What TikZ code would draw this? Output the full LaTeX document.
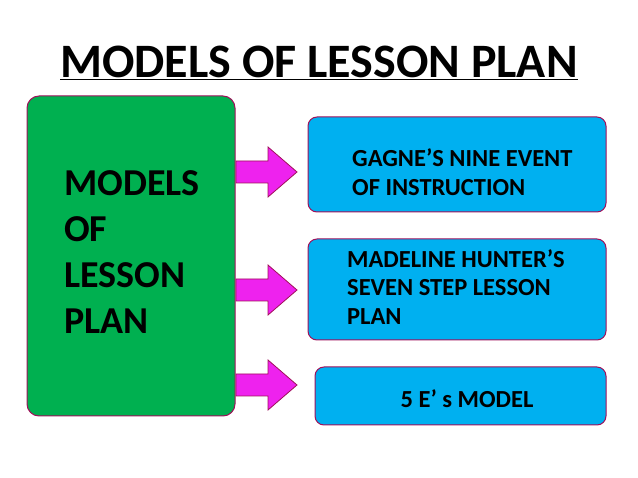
\documentclass[tikz,border=0pt]{standalone}
\usepackage{fontspec}
\setmainfont{Carlito}
\definecolor{gbox}{HTML}{00B050}
\definecolor{bbox}{HTML}{00B0F0}
\definecolor{mag}{HTML}{EE22EE}
\definecolor{edge}{HTML}{A0105A}
\begin{document}
\begin{tikzpicture}[x=1pt,y=-1pt,
  bigbox/.style={draw=edge,line width=1pt,rounded corners=12pt,fill=gbox},
  bluebox/.style={draw=edge,line width=1pt,rounded corners=9pt,fill=bbox},
  arr/.style={draw=edge,line width=0.8pt,fill=mag},
  txt/.style={font=\bfseries\fontsize{24.5}{28.5}\selectfont,align=left,anchor=west,inner sep=0pt}]
\useasboundingbox (0,0) rectangle (638,478);
\node[font=\bfseries\fontsize{48}{56}\selectfont] (title) at (319,63) {\underline{MODELS OF LESSON PLAN}};
\draw[bigbox] (27,96) rectangle (235,416);
\node[txt,font=\bfseries\fontsize{38}{46}\selectfont] (m) at (64,252) {MODELS\\OF\\LESSON\\PLAN};
\foreach \y/\n in {172/a1,290/a2,385/a3}{
  \draw[arr] (236,\y-11) -- (268,\y-11) -- (268,\y-25) -- (297,\y) -- (268,\y+25) -- (268,\y+11) -- (236,\y+11) -- cycle;
}
\draw[bluebox] (308,117) rectangle (606,212);
\node[txt] (b1) at (352,172) {GAGNE’S NINE EVENT\\OF INSTRUCTION};
\draw[bluebox] (308,239) rectangle (606,340);
\node[txt] (b2) at (347,287) {MADELINE HUNTER’S\\SEVEN STEP LESSON\\PLAN};
\draw[bluebox] (315,367) rectangle (606,425);
\node[txt,anchor=center] (b3) at (467,399) {5 E’ s MODEL};
\end{tikzpicture}
\end{document}
